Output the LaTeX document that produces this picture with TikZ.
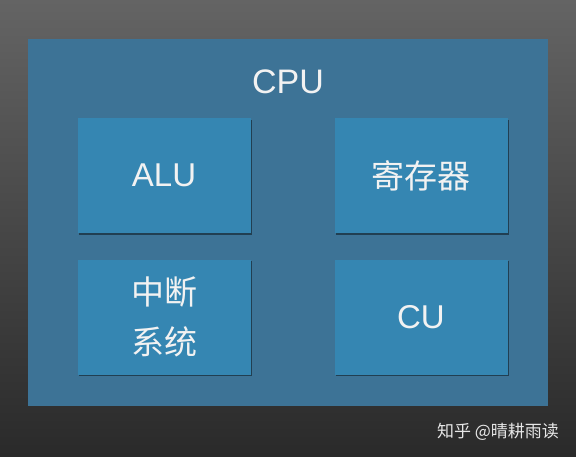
\documentclass[tikz,border=0pt]{standalone}
\usepackage{fontspec}
\setmainfont{Liberation Sans}
\newfontfamily\cjk{Noto Sans CJK SC}
\usetikzlibrary{shadows}
\tikzset{>=latex}
\definecolor{bgtop}{HTML}{646464}
\definecolor{bgbot}{HTML}{2A2A2A}
\definecolor{cpublue}{HTML}{3D7396}
\definecolor{unitblue}{HTML}{3586B2}
\definecolor{labelwhite}{HTML}{F2F2F2}

\tikzset{
  unit/.style={fill=unitblue, minimum width=173pt, minimum height=115pt, inner sep=0pt,
    text=labelwhite, font=\fontsize{33}{50}\selectfont, align=center,
    drop shadow={shadow xshift=1.5pt, shadow yshift=-1.5pt, opacity=0.45, fill=black}},
}

\begin{document}
\begin{tikzpicture}[x=1pt,y=-1pt]
    \shade[top color=bgtop, bottom color=bgbot] (0,0) rectangle (576,456);
    \node[fill=cpublue, minimum width=520pt, minimum height=367pt, inner sep=0pt] (cpu) at (288,222.5) {};
    \node[text=labelwhite, font=\fontsize{34}{40}\selectfont] (cpulabel) at (288,82) {CPU};
    \node[unit] (alu) at (164,175.5) {ALU};
    \node[unit] (reg) at (421,175.5) {\cjk 寄存器};
    \node[unit] (intr) at (164,317) {\cjk 中断\\\cjk 系统};
    \node[unit] (cu) at (421,317) {CU};
    \node[text=labelwhite!90!gray, font=\cjk\fontsize{17}{20}\selectfont] (mark) at (498,432) {知乎 @晴耕雨读};
\end{tikzpicture}
\end{document}
